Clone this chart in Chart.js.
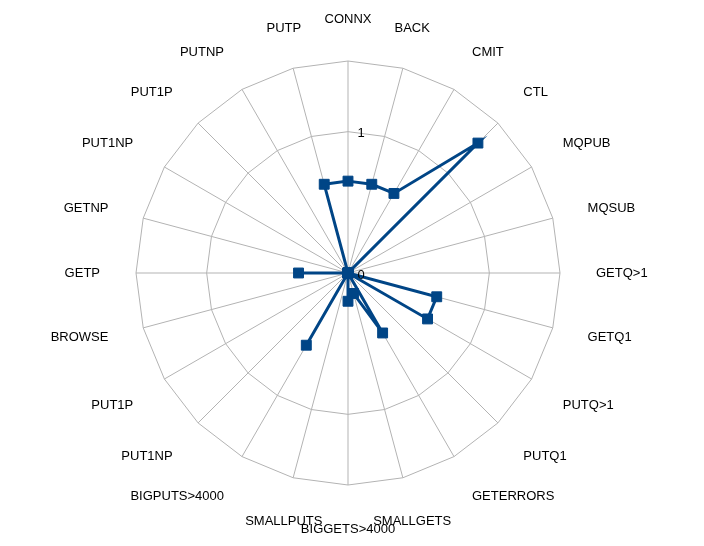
<!DOCTYPE html>
<html>
<head>
<meta charset="utf-8">
<script src="https://cdn.jsdelivr.net/npm/chart.js@4/dist/chart.umd.min.js"></script>
<style>
  html, body { margin: 0; padding: 0; background: #fff; }
  #wrap { width: 704px; height: 546px; position: relative; }
</style>
</head>
<body>
<div id="wrap"><canvas id="radar"></canvas></div>
<script>
// categories, clockwise from the top
const categories = [
  "CONNX", "BACK", "CMIT", "CTL", "MQPUB", "MQSUB", "GETQ>1", "GETQ1",
  "PUTQ>1", "PUTQ1", "GETERRORS", "SMALLGETS", "BIGGETS>4000", "SMALLPUTS",
  "BIGPUTS>4000", "PUT1NP", "PUT1P", "BROWSE", "GETP", "GETNP",
  "PUT1NP", "PUT1P", "PUTNP", "PUTP"
];

const values = [
  0.65, 0.65, 0.65, 1.30, 0, 0, 0, 0.65,
  0.65, 0, 0.49, 0.15, 0.20, 0,
  0.59, 0, 0, 0, 0.35, 0,
  0, 0, 0, 0.65
];

const tickValues = [0, 1];
const axisMax = 1.5;

const LABEL_FONT = '13px "Liberation Sans", Arial, sans-serif';

// category labels + value labels placed the way the office chart does it
const labelPlugin = {
  id: "officeLabels",
  afterDraw(chart) {
    const scale = chart.scales.r;
    const ctx = chart.ctx;
    const n = chart.data.labels.length;
    const dist = scale.drawingArea + 36;

    ctx.save();
    ctx.font = LABEL_FONT;
    ctx.fillStyle = "#000";

    chart.data.labels.forEach((label, i) => {
      const deg = (360 / n) * i;
      const p = scale.getPointPosition(i, dist);
      let y = p.y;

      // near vertical -> centred, otherwise hang off the side
      if (deg <= 15 || deg >= 345 || (deg >= 165 && deg <= 195)) ctx.textAlign = "center";
      else if (deg < 180) ctx.textAlign = "left";
      else ctx.textAlign = "right";

      // near horizontal -> vertically centred on the point
      if (Math.abs(deg - 90) <= 15 || Math.abs(deg - 270) <= 15) ctx.textBaseline = "middle";
      else if (deg < 90 || deg > 270) { ctx.textBaseline = "bottom"; y += 1; }
      else { ctx.textBaseline = "top"; y += 2; }

      ctx.fillText(label, p.x, y);
    });

    ctx.textAlign = "center";
    ctx.textBaseline = "middle";
    tickValues.forEach(v => {
      const d = scale.getDistanceFromCenterForValue(v);
      ctx.fillText(String(v), scale.xCenter + 13, scale.yCenter - d + 2);
    });
    ctx.restore();
  }
};

new Chart(document.getElementById("radar"), {
  type: "radar",
  data: {
    labels: categories,
    datasets: [
      {
        label: "values",
        data: values,
        borderColor: "#004586",
        backgroundColor: "#004586",
        borderWidth: 3,
        fill: false,
        pointStyle: "rect",
        pointRadius: 7,
        pointBorderWidth: 1,
        pointBorderColor: "#004586",
        pointBackgroundColor: "#004586"
      }
    ]
  },
  options: {
    responsive: true,
    maintainAspectRatio: false,
    animation: false,
    layout: { padding: { top: 61, bottom: 61, left: 100, right: 108 } },
    plugins: {
      legend: { display: false },
      tooltip: { enabled: false }
    },
    scales: {
      r: {
        min: 0,
        max: axisMax,
        ticks: { stepSize: 1, display: false },
        grid: { color: "#b3b3b3", lineWidth: 1 },
        angleLines: { color: "#b3b3b3", lineWidth: 1 },
        pointLabels: { display: false }
      }
    }
  },
  plugins: [labelPlugin]
});
</script>
</body>
</html>
